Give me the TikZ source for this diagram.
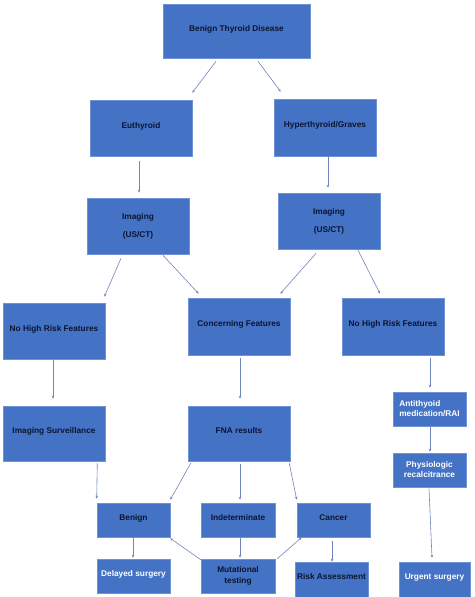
\documentclass[tikz,border=0pt]{standalone}
\usepackage{fontspec}
\setmainfont{Liberation Sans}
\usetikzlibrary{calc,arrows.meta}
\definecolor{boxfill}{HTML}{4472C4}
\definecolor{boxline}{HTML}{6F93D6}
\definecolor{txtdark}{HTML}{0B1533}
\definecolor{arrcol}{HTML}{6F86BC}
\tikzset{
  box/.style={draw=boxline, line width=0.6pt, fill=boxfill, inner sep=0pt,
    font=\fontsize{8.3}{10}\selectfont\bfseries, text=txtdark, align=center},
  lift/.style={text height=6pt, text depth=6pt},
  bigbox/.style={box, minimum width=102pt, minimum height=56pt},
  smallbox/.style={box, minimum width=73pt, minimum height=34pt},
  whitetext/.style={text=white},
  arr/.style={draw=arrcol, line width=0.6pt, -{Stealth[length=3pt,width=2.6pt]}}
}
\begin{document}
\begin{tikzpicture}[x=1pt,y=-1pt]
\useasboundingbox[fill=white] (0,0) rectangle (474,597);
% nodes
\node[box, lift, minimum width=147pt, minimum height=54pt] (btd) at (236.5,31) {Benign Thyroid Disease};
\node[bigbox, lift] (eu) at (141,128) {Euthyroid};
\node[bigbox, lift, minimum height=57pt] (hy) at (325,127.5) {Hyperthyroid/Graves};
\node[bigbox] (im1) at (138,226) {Imaging\\[8pt](US/CT)};
\node[bigbox] (im2) at (329,221) {Imaging\\[8pt](US/CT)};
\node[bigbox, lift] (nh1) at (54,331) {No High Risk Features};
\node[bigbox, lift, minimum height=57pt] (cf) at (239,326.5) {Concerning Features};
\node[bigbox, lift, minimum height=57pt] (nh2) at (393,326.5) {No High Risk Features};
\node[bigbox, lift, minimum height=55pt] (is) at (54,433.5) {Imaging Surveillance};
\node[bigbox, lift, minimum height=55pt] (fna) at (239,433.5) {FNA results};
\node[smallbox, whitetext, align=left] (at) at (429.5,409) {Antithyoid\\medication/RAI};
\node[smallbox, whitetext] (ph) at (429.5,470) {Physiologic\\recalcitrance};
\node[smallbox, lift] (bn) at (133.5,520) {Benign};
\node[smallbox, lift, minimum width=74pt] (ind) at (238,520) {Indeterminate};
\node[smallbox, lift] (ca) at (333.5,520) {Cancer};
\node[smallbox, lift, whitetext] (ds) at (133.5,576) {Delayed surgery};
\node[smallbox, minimum width=74pt] (mt) at (238,576) {Mutational\\[1pt]testing};
\node[smallbox, lift, minimum height=35pt] (ra) at (331.5,579.5) {Risk Assessment};
\node[smallbox, lift, whitetext, minimum width=71pt, minimum height=35pt] (us) at (434.5,579.5) {Urgent surgery};
% connectors
\draw[arr] ($(btd.south)+(-20.5,3)$) -- ($(eu.north east)+(0,-7)$);
\draw[arr] ($(btd.south)+(21.5,3)$) -- ($(hy.north west)+(7,-7)$);
\draw[arr] ($(eu.south)+(-2,5)$) -- ($(im1.north)+(1,-5)$);
\draw[arr] ($(hy.south)+(3,1)$) -- ($(im2.north)+(-1,-5)$);
\draw[arr] ($(im1.south)+(-17,4)$) -- ($(nh1.north east)+(-1,-6)$);
\draw[arr] ($(im1.south)+(25,1)$) -- ($(cf.north west)+(11,-4)$);
\draw[arr] ($(im2.south)+(-13,4)$) -- ($(cf.north east)+(-10,-4)$);
\draw[arr] ($(im2.south)+(29,1)$) -- ($(nh2.north)+(-13,-4)$);
\draw[arr] ($(nh1.south)+(-1,1)$) -- ($(is.north)+(-1,-7)$);
\draw[arr] ($(cf.south)+(1,3)$) -- ($(fna.north)+(1,-7)$);
\draw[arr] ($(nh2.south)+(37,3)$) -- ($(at.north)+(0.5,-4)$);
\draw[arr] ($(at.south)+(0.5,1)$) -- ($(ph.north)+(0.5,-1)$);
\draw[arr] ($(ph.south)+(-0.5,1)$) -- ($(us.north)+(-2.5,-4)$);
\draw[arr] ($(is.south east)+(-8,2)$) -- ($(bn.north west)+(0,-4)$);
\draw[arr] ($(fna.south west)+(3,2)$) -- ($(bn.north east)+(0,-3)$);
\draw[arr] ($(fna.south)+(1,3)$) -- ($(ind.north)+(2,-3)$);
\draw[arr] ($(fna.south east)+(-1,2)$) -- ($(ca.north west)+(0,-3)$);
\draw[arr] ($(bn.south)+(-0.5,1)$) -- ($(ds.north)+(-0.5,-1)$);
\draw[arr] ($(ind.south)+(2,1)$) -- ($(mt.north)+(2,-1)$);
\draw[arr] ($(ca.south)+(-1.5,4)$) -- ($(ra.north)+(0.5,0)$);
\draw[arr] ($(mt.north west)+(0,1)$) -- ($(bn.south east)+(0,1)$);
\draw[arr] ($(mt.north east)+(2,0)$) -- ($(ca.south west)+(5,0)$);
\end{tikzpicture}
\end{document}
